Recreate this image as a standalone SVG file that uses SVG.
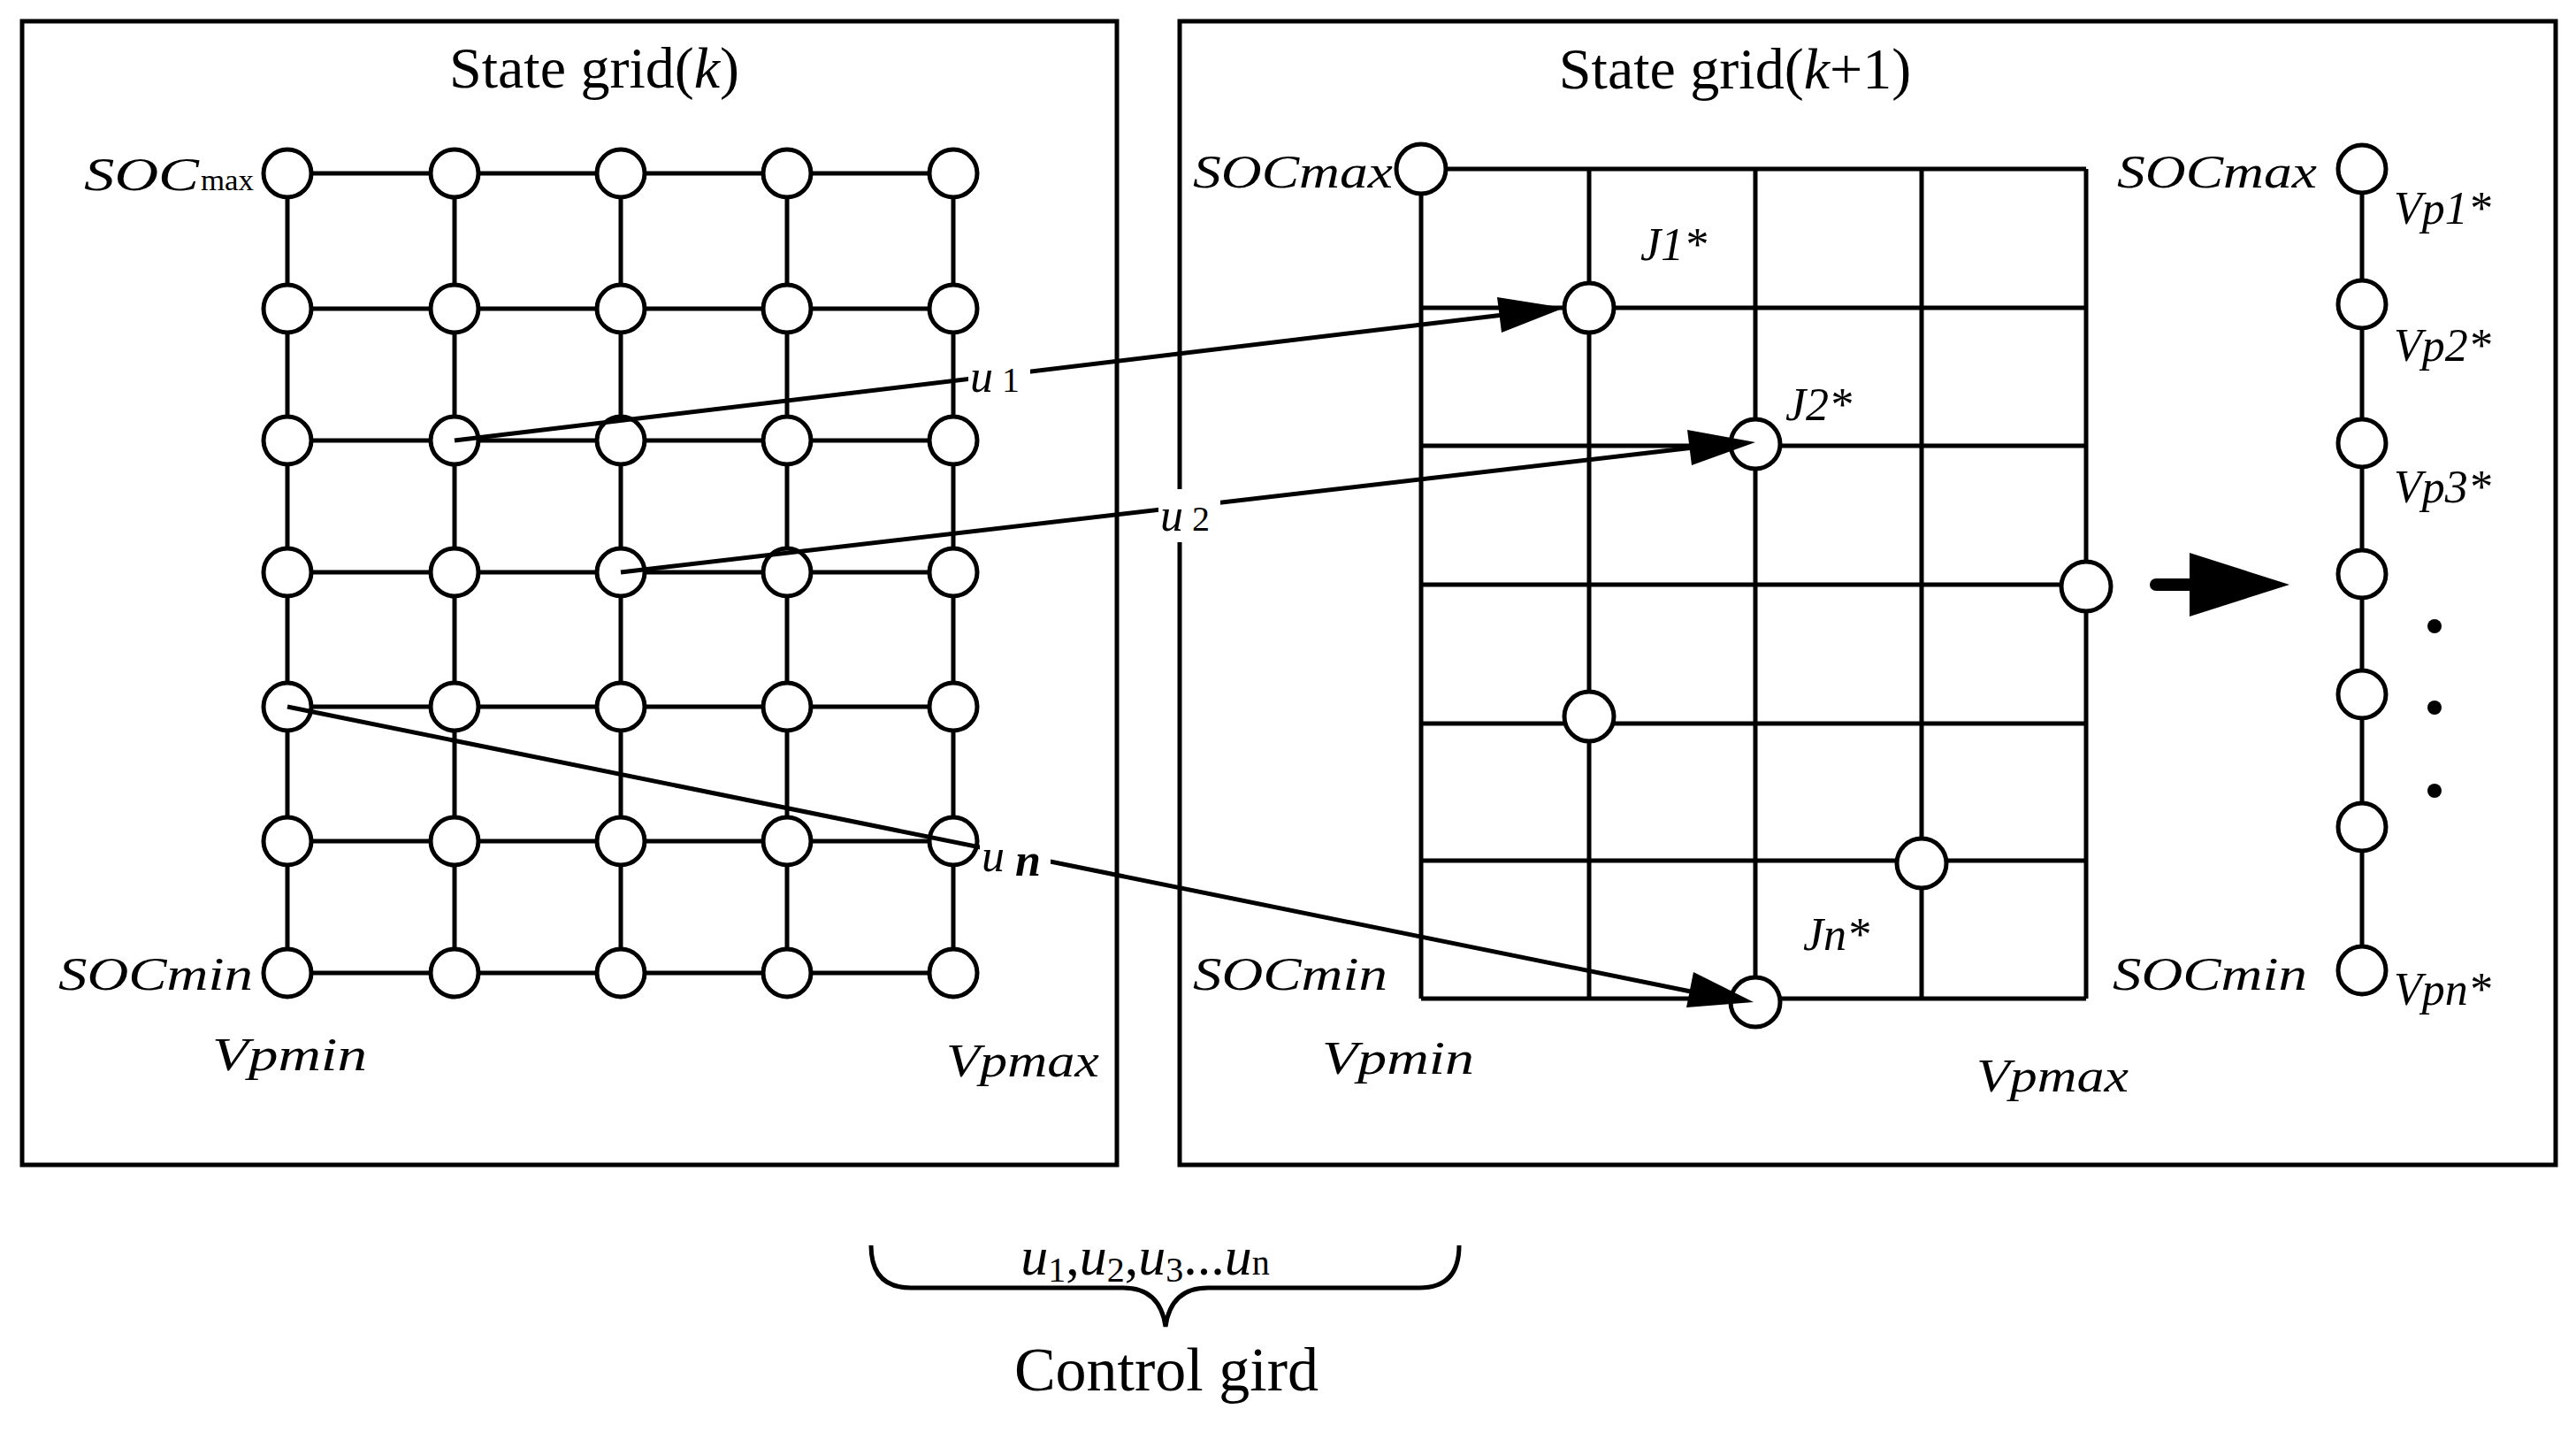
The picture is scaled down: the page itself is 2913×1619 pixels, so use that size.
<svg xmlns="http://www.w3.org/2000/svg" width="2913" height="1619" viewBox="0 0 2913 1619">
<style>
.box{fill:none;stroke:#000;stroke-width:5}
.ln{fill:none;stroke:#000;stroke-width:5}
.nd{fill:#fff;stroke:#000;stroke-width:5}
.t{font-family:"Liberation Serif",serif;fill:#000}
.i{font-family:"Liberation Serif",serif;font-style:italic;fill:#000;font-size:52px}
</style>
<defs>
<marker id="ah" markerWidth="10" markerHeight="6" refX="10" refY="3" orient="auto" markerUnits="userSpaceOnUse" viewBox="0 0 10 6">
</marker>
</defs>
<rect width="2913" height="1619" fill="#fff"/>
<g id="box-k"><rect class="box" x="25" y="24" width="1238" height="1293"/>
<text class="t" x="672" y="99" font-size="66" text-anchor="middle">State grid(<tspan font-style="italic">k</tspan>)</text></g>
<g id="box-k1"><rect class="box" x="1334" y="24" width="1556" height="1293"/>
<text class="t" x="1962" y="100" font-size="66" text-anchor="middle">State grid(<tspan font-style="italic">k</tspan>+1)</text></g>
<g id="grid-k">
<path class="ln" d="M325 196H1078M325 349H1078M325 498H1078M325 647H1078M325 799H1078M325 951H1078M325 1100H1078M325 196V1100M514 196V1100M702 196V1100M890 196V1100M1078 196V1100"/>
<g class="nd">
<circle cx="325" cy="196" r="27"/><circle cx="514" cy="196" r="27"/><circle cx="702" cy="196" r="27"/><circle cx="890" cy="196" r="27"/><circle cx="1078" cy="196" r="27"/>
<circle cx="325" cy="349" r="27"/><circle cx="514" cy="349" r="27"/><circle cx="702" cy="349" r="27"/><circle cx="890" cy="349" r="27"/><circle cx="1078" cy="349" r="27"/>
<circle cx="325" cy="498" r="27"/><circle cx="514" cy="498" r="27"/><circle cx="702" cy="498" r="27"/><circle cx="890" cy="498" r="27"/><circle cx="1078" cy="498" r="27"/>
<circle cx="325" cy="647" r="27"/><circle cx="514" cy="647" r="27"/><circle cx="702" cy="647" r="27"/><circle cx="890" cy="647" r="27"/><circle cx="1078" cy="647" r="27"/>
<circle cx="325" cy="799" r="27"/><circle cx="514" cy="799" r="27"/><circle cx="702" cy="799" r="27"/><circle cx="890" cy="799" r="27"/><circle cx="1078" cy="799" r="27"/>
<circle cx="325" cy="951" r="27"/><circle cx="514" cy="951" r="27"/><circle cx="702" cy="951" r="27"/><circle cx="890" cy="951" r="27"/><circle cx="1078" cy="951" r="27"/>
<circle cx="325" cy="1100" r="27"/><circle cx="514" cy="1100" r="27"/><circle cx="702" cy="1100" r="27"/><circle cx="890" cy="1100" r="27"/><circle cx="1078" cy="1100" r="27"/>
</g>
<text class="i" x="95" y="215" textLength="130" lengthAdjust="spacingAndGlyphs">SOC</text><text class="t" x="227" y="215" font-size="34" textLength="60" lengthAdjust="spacingAndGlyphs">max</text>
<text class="i" x="66" y="1119" textLength="220" lengthAdjust="spacingAndGlyphs">SOCmin</text>
<text class="i" x="240" y="1210" textLength="175" lengthAdjust="spacingAndGlyphs">Vpmin</text>
<text class="i" x="1070" y="1217" textLength="173" lengthAdjust="spacingAndGlyphs">Vpmax</text>
</g>
<g id="grid-k1">
<path class="ln" d="M1607 191H2359M1607 348H2359M1607 504H2359M1607 661H2359M1607 818H2359M1607 973H2359M1607 1129H2359M1607 191V1129M1797 191V1129M1985 191V1129M2173 191V1129M2359 191V1129"/>
<g class="nd">
<circle cx="1607" cy="191" r="28"/><circle cx="1797" cy="348" r="28"/><circle cx="1985" cy="502" r="28"/><circle cx="2359" cy="663" r="28"/><circle cx="1797" cy="810" r="28"/><circle cx="2173" cy="976" r="28"/><circle cx="1985" cy="1133" r="28"/>
</g>
<text class="i" x="1349" y="212" textLength="226" lengthAdjust="spacingAndGlyphs">SOCmax</text>
<text class="i" x="1349" y="1119" textLength="220" lengthAdjust="spacingAndGlyphs">SOCmin</text>
<text class="i" x="1495" y="1214" textLength="172" lengthAdjust="spacingAndGlyphs">Vpmin</text>
<text class="i" x="2235" y="1234" textLength="172" lengthAdjust="spacingAndGlyphs">Vpmax</text>
<text class="i" x="1855" y="294">J1*</text>
<text class="i" x="2019" y="475">J2*</text>
<text class="i" x="2039" y="1074">Jn*</text>
</g>
<g id="column">
<path class="ln" d="M2671 191V1097"/>
<g class="nd"><circle cx="2671" cy="191" r="27"/><circle cx="2671" cy="344" r="27"/><circle cx="2671" cy="501" r="27"/><circle cx="2671" cy="649" r="27"/><circle cx="2671" cy="785" r="27"/><circle cx="2671" cy="935" r="27"/><circle cx="2671" cy="1097" r="27"/></g>
<text class="i" x="2394" y="212" textLength="226" lengthAdjust="spacingAndGlyphs">SOCmax</text>
<text class="i" x="2389" y="1119" textLength="220" lengthAdjust="spacingAndGlyphs">SOCmin</text>
<text class="i" x="2707" y="253">Vp1*</text>
<text class="i" x="2707" y="408">Vp2*</text>
<text class="i" x="2707" y="568">Vp3*</text>
<text class="i" x="2707" y="1136">Vpn*</text>
<circle cx="2753" cy="708" r="8"/><circle cx="2753" cy="800" r="8"/><circle cx="2753" cy="894" r="8"/>
</g>
<g id="connectors">
<path class="ln" d="M514 498L1700 356"/><path d="M1769 348L1693 336L1698 376Z"/>
<path class="ln" d="M702 647L1915 506"/><path d="M1985 500L1908 486L1913 526Z"/>
<path class="ln" d="M325 799L1912 1121"/><path d="M1983 1133L1915 1099L1907 1139Z"/>
<path d="M2438 661H2485" stroke="#000" stroke-width="14" stroke-linecap="round"/><path d="M2476 625L2589 661L2476 697Z"/>
<rect x="1095" y="398" width="70" height="58" fill="#fff"/>
<text class="i" x="1097" y="443" font-size="64">u</text><text class="t" x="1133" y="443" font-size="40">1</text>
<rect x="1310" y="553" width="70" height="60" fill="#fff"/>
<text class="i" x="1312" y="600" font-size="64">u</text><text class="t" x="1348" y="600" font-size="40">2</text>
<rect x="1108" y="940" width="80" height="60" fill="#fff"/>
<text class="i" x="1110" y="985" font-size="64">u</text><text class="i" x="1148" y="990" font-size="40" font-weight="bold">n</text>
</g>
<g id="control">
<text class="t" x="1295" y="1441" font-size="62" text-anchor="middle"><tspan font-style="italic">u</tspan><tspan font-size="40" dy="8">1</tspan><tspan dy="-8">,</tspan><tspan font-style="italic">u</tspan><tspan font-size="40" dy="8">2</tspan><tspan dy="-8">,</tspan><tspan font-style="italic">u</tspan><tspan font-size="40" dy="8">3</tspan><tspan dy="-8">...</tspan><tspan font-style="italic">u</tspan><tspan font-size="40">n</tspan></text>
<path class="ln" d="M985 1408Q985 1456 1030 1456H1270Q1312 1456 1318 1500Q1324 1456 1366 1456H1605Q1650 1456 1650 1408"/>
<text class="t" x="1319" y="1572" font-size="70" text-anchor="middle">Control gird</text>
</g>
</svg>
